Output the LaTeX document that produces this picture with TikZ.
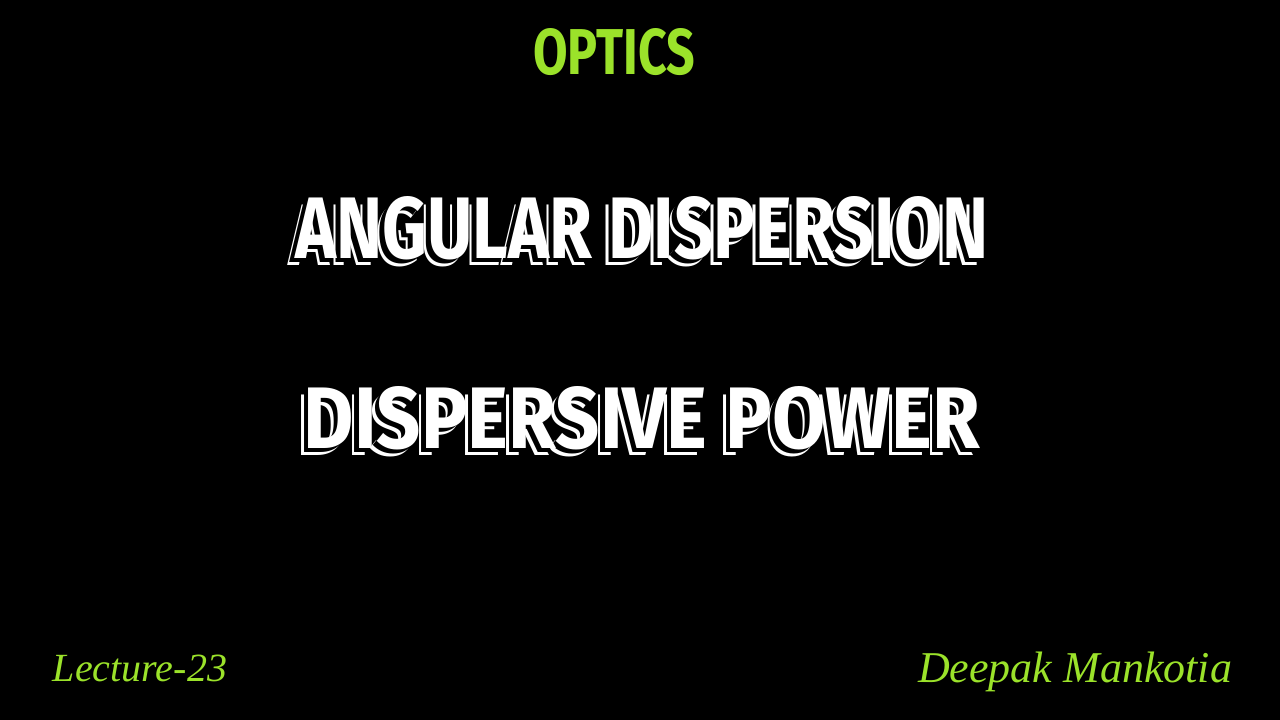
\documentclass[tikz,border=0pt]{standalone}
\usepackage{fontspec}
\setmainfont{Fira Sans}
\newfontfamily\scriptf{Liberation Serif}
\definecolor{lime}{HTML}{9BE22A}
\begin{document}
\begin{tikzpicture}[x=1pt,y=1pt,
  ttl/.style={inner sep=0pt,anchor=center}]
\fill[black] (0,0) rectangle (1280,720);
\useasboundingbox (0,0) rectangle (1280,720);
\node[ttl,text=lime] (optics) at (614,668) {\resizebox{162pt}{46pt}{\bfseries OPTICS}};
\foreach \dx/\c in {-5/white,-2.5/black}{
  \node[ttl,text=\c] at (640+\dx,490+\dx) {\resizebox{694pt}{62pt}{\bfseries ANGULAR DISPERSION}};
  \node[ttl,text=\c] at (640+\dx,300+\dx) {\resizebox{676pt}{62pt}{\bfseries DISPERSIVE POWER}};
}
\node[ttl,text=white] (t1) at (642,492) {\resizebox{694pt}{62pt}{\bfseries ANGULAR DISPERSION}};
\node[ttl,text=white] (t2) at (642,302) {\resizebox{676pt}{62pt}{\bfseries DISPERSIVE POWER}};
\node[ttl,text=lime] (lec) at (140,52) {\scriptf\itshape\fontsize{40}{40}\selectfont Lecture-23};
\node[ttl,text=lime] (auth) at (1075,48) {\scriptf\itshape\fontsize{44}{44}\selectfont Deepak Mankotia};
\end{tikzpicture}
\end{document}
